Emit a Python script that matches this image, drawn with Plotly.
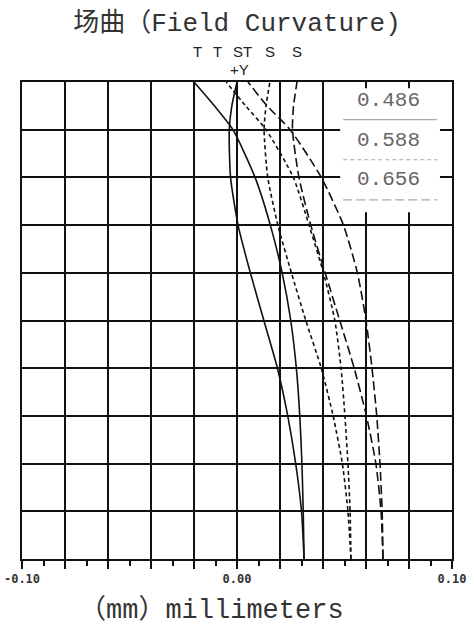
import plotly.graph_objects as go

# relative field height (0 = axis, 1 = +Y max field)
field = [0.0, 0.1, 0.2, 0.3, 0.4, 0.5, 0.6, 0.7, 0.8, 0.9, 0.95, 1.0]

# focus shift in mm
t_486 = [0.0312, 0.0308, 0.0302, 0.0292, 0.0276, 0.0250, 0.0210, 0.0155, 0.0084, -0.0019, -0.0105, -0.0200]
s_486 = [0.0312, 0.0300, 0.0273, 0.0236, 0.0188, 0.0125, 0.0062, 0.0005, -0.0030, -0.0036, -0.0024, 0.0000]
t_588 = [0.0530, 0.0526, 0.0516, 0.0502, 0.0484, 0.0455, 0.0402, 0.0335, 0.0262, 0.0135, 0.0040, -0.0050]
s_588 = [0.0530, 0.0516, 0.0490, 0.0447, 0.0392, 0.0320, 0.0253, 0.0190, 0.0143, 0.0126, 0.0135, 0.0153]
t_656 = [0.0679, 0.0675, 0.0665, 0.0650, 0.0628, 0.0600, 0.0560, 0.0495, 0.0392, 0.0247, 0.0140, 0.0051]
s_656 = [0.0679, 0.0670, 0.0646, 0.0602, 0.0545, 0.0478, 0.0410, 0.0343, 0.0288, 0.0258, 0.0263, 0.0279]

wavelengths = ['0.486', '0.588', '0.656']
x_ticks = [-0.10, -0.08, -0.06, -0.04, -0.02, 0.00, 0.02, 0.04, 0.06, 0.08, 0.10]
x_ticktext = ['-0.10', '', '', '', '', '0.00', '', '', '', '', '0.10']
x_minor = [-0.09, -0.07, -0.05, -0.03, -0.01, 0.01, 0.03, 0.05, 0.07, 0.09]

dashes = ['solid', '4px,3px', '9px,4px']
curves = [(t_486, s_486), (t_588, s_588), (t_656, s_656)]

fig = go.Figure()

for (t, s), d in zip(curves, dashes):
    for vals in (t, s):
        fig.add_trace(go.Scatter(
            x=vals, y=field, mode='lines',
            line=dict(color='#111', width=1.6, dash=d, shape='spline', smoothing=0.6),
            showlegend=False, hoverinfo='skip'
        ))

# curve labels at the top of the plot (nudged apart a little, as in the original)
tops = [(t_486[-1], 'T', 3), (t_588[-1], 'T', -9), (s_486[-1], 'S', 1), (t_656[-1], 'T', 0),
        (s_588[-1], 'S', 0), (s_656[-1], 'S', 0)]
for xv, lab, nudge in tops:
    fig.add_annotation(x=xv, y=1.063, xref='x', yref='paper', text=lab, showarrow=False,
                       xanchor='center', yanchor='middle', xshift=nudge,
                       font=dict(family='Liberation Sans', size=15, color='#222'))
fig.add_annotation(x=0.0, y=1.026, xref='x', yref='paper', text='+Y', showarrow=False,
                   xanchor='center', yanchor='middle', xshift=2,
                   font=dict(family='Liberation Sans', size=15, color='#222'))

# legend box
fig.add_shape(type='rect', xref='paper', yref='paper', x0=0.74, x1=0.972, y0=0.727, y1=0.987,
              fillcolor='white', line=dict(width=0), layer='above')
leg_text_y = [0.962, 0.878, 0.795]
leg_line_y = [0.921, 0.837, 0.753]
for w, ty, ly, d in zip(wavelengths, leg_text_y, leg_line_y, dashes):
    fig.add_annotation(x=0.853, y=ty, xref='paper', yref='paper', text=w, showarrow=False,
                       xanchor='center', yanchor='middle',
                       font=dict(family='Liberation Mono', size=21, color='#666'))
    fig.add_shape(type='line', xref='paper', yref='paper', x0=0.747, x1=0.965, y0=ly, y1=ly,
                  line=dict(color='#aaa', width=1.2, dash=d), layer='above')

fig.add_annotation(x=0.44, y=-0.107, xref='paper', yref='paper', text='（mm）millimeters',
                   showarrow=False, xanchor='center', yanchor='middle',
                   font=dict(family='Liberation Mono, Noto Sans CJK SC', size=27, color='#333'))

fig.update_xaxes(
    range=[-0.1, 0.1], tickmode='array', tickvals=x_ticks, ticktext=x_ticktext,
    showgrid=True, gridcolor='#111', gridwidth=1.5, automargin=False,
    ticks='outside', ticklen=8, tickwidth=1.5, tickcolor='#111',
    minor=dict(tickmode='array', tickvals=x_minor, ticks='outside', ticklen=5,
               tickwidth=1.5, tickcolor='#111', showgrid=False),
    showline=True, mirror=True, linecolor='#111', linewidth=2, zeroline=False,
    tickfont=dict(family='DejaVu Sans Mono', size=12, color='#333', weight='bold')
)
fig.update_yaxes(
    range=[0, 1], dtick=0.1, showticklabels=False, ticks='', automargin=False,
    showgrid=True, gridcolor='#111', gridwidth=1.5,
    showline=True, mirror=True, linecolor='#111', linewidth=2, zeroline=False
)

fig.update_layout(
    width=474, height=634,
    margin=dict(l=22, r=22, t=82, b=75),
    paper_bgcolor='white', plot_bgcolor='white',
    title=dict(text='场曲（Field Curvature)', x=0.5, xanchor='center',
               y=1 - 22 / 634, yanchor='middle',
               font=dict(family='Liberation Mono, Noto Sans CJK SC', size=26, color='#333'),
               automargin=False),
)

# drop the default 8px page margin so the figure sits flush in the window
fig.write_html('out.html', config={'displayModeBar': False},
               post_script="document.body.style.margin='0';")
